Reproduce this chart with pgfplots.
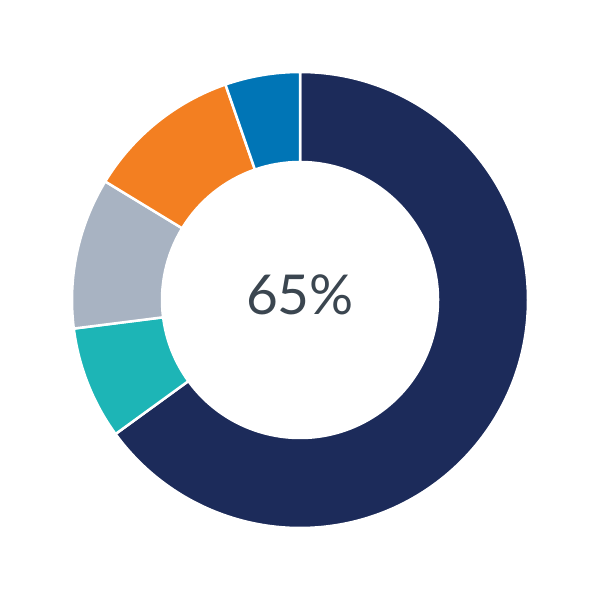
\documentclass[border=0pt]{standalone}
\usepackage{pgfplots}
\usepackage{pgfplotstable}
\pgfplotsset{compat=1.18}
\usepackage{fontspec}
\setmainfont{Lato}

\definecolor{navyc}{HTML}{1C2B5A}
\definecolor{tealc}{HTML}{1DB5B6}
\definecolor{grayc}{HTML}{A8B3C2}
\definecolor{orangec}{HTML}{F37F21}
\definecolor{bluec}{HTML}{0075B6}
\definecolor{textc}{HTML}{3B4650}

% shares in percent, clockwise from the top
\pgfplotstableread{
share colour
65   navyc
8    tealc
10.7 grayc
11   orangec
5.3  bluec
}\donut

\begin{document}
\begin{tikzpicture}
\begin{axis}[
    x=1pt, y=1pt,
    xmin=-300, xmax=300,
    ymin=-300, ymax=300,
    hide axis,
    clip=false,
]
\path (axis cs:-300,-300) rectangle (axis cs:300,300);
\pgfmathsetmacro\start{90}
\pgfplotsforeachungrouped \i in {0,...,4}{%
    \pgfplotstablegetelem{\i}{share}\of\donut
    \let\v=\pgfplotsretval
    \pgfplotstablegetelem{\i}{colour}\of\donut
    \let\c=\pgfplotsretval
    \pgfmathsetmacro\stop{\start-3.6*\v}
    \edef\wedge{\noexpand\filldraw[fill=\c, draw=white, line width=2.5pt]
        (axis cs:{228*cos(\start)},{228*sin(\start)})
        arc[start angle=\start, end angle=\stop, radius=228pt]
        -- (axis cs:{138*cos(\stop)},{138*sin(\stop)})
        arc[start angle=\stop, end angle=\start, radius=138pt] -- cycle;}
    \wedge
    \global\let\start=\stop
}
\node[font=\fontsize{55}{60}\selectfont, text=textc] at (axis cs:0,5) {65\%};
\end{axis}
\end{tikzpicture}
\end{document}
